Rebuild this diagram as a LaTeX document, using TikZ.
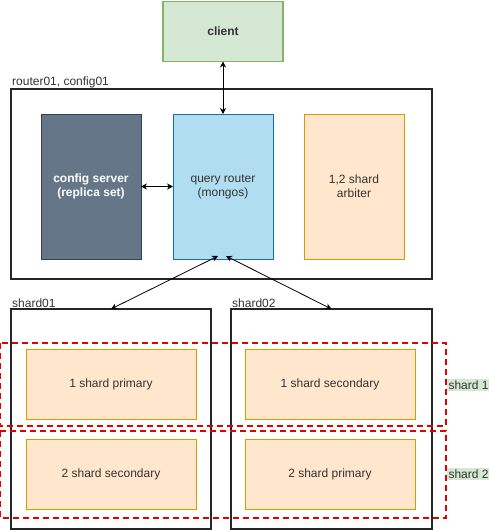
\documentclass[tikz,border=0pt]{standalone}
\usepackage{fontspec}
\setmainfont{Liberation Sans}
\usepackage{tikz}
\usetikzlibrary{arrows.meta}

\definecolor{clientfill}{HTML}{D5E8D4}
\definecolor{clientline}{HTML}{82B366}
\definecolor{cfgfill}{HTML}{647687}
\definecolor{cfgline}{HTML}{314354}
\definecolor{qrfill}{HTML}{B1DDF0}
\definecolor{qrline}{HTML}{10739E}
\definecolor{orfill}{HTML}{FFE6CC}
\definecolor{orline}{HTML}{D79B00}
\definecolor{txt}{HTML}{333333}

\begin{document}
\begin{tikzpicture}[x=1pt,y=-1pt,
  font=\fontsize{12}{14}\selectfont,
  box/.style={rectangle,inner sep=0pt,outer sep=0pt,align=center,text=txt},
  host/.style={box,draw=black!85,line width=1.6pt},
  conn/.style={{Stealth[length=6pt,width=6pt]}-{Stealth[length=6pt,width=6pt]},line width=0.8pt},
  grp/.style={draw=red!90!black,line width=1.6pt,dash pattern=on 6pt off 4pt},
  tag/.style={box,fill=clientfill,inner sep=1.5pt,anchor=west}]
\useasboundingbox (0,0) rectangle (488,530);

\node[box,draw=clientline,fill=clientfill,line width=1.6pt,minimum width=120pt,minimum height=60pt] (client) at (223,31.5) {\textbf{client}};

\node[host,minimum width=421pt,minimum height=190pt] (router) at (221.5,184) {};
\node[anchor=south west,inner sep=1pt,text=txt] at (router.north west) {router01, config01};

\node[box,draw=cfgline,fill=cfgfill,text=white,minimum width=100pt,minimum height=145pt] (config) at (91,186.5) {\textbf{config server}\\\textbf{(replica set)}};
\node[box,draw=qrline,fill=qrfill,minimum width=100pt,minimum height=145pt] (query) at (223,186.5) {query router\\(mongos)};
\node[box,draw=orline,fill=orfill,minimum width=100pt,minimum height=145pt] (arbiter) at (354,186.5) {1,2 shard\\arbiter};

\node[host,minimum width=200pt,minimum height=220pt] (shard01) at (111,419) {};
\node[anchor=south west,inner sep=1pt,text=txt] at (shard01.north west) {shard01};
\node[host,minimum width=201pt,minimum height=220pt] (shard02) at (331.5,419) {};
\node[anchor=south west,inner sep=1pt,text=txt] at (shard02.north west) {shard02};

\node[box,draw=orline,fill=orfill,minimum width=170pt,minimum height=70pt] (prim1) at (111,384) {1 shard primary};
\node[box,draw=orline,fill=orfill,minimum width=170pt,minimum height=70pt] (sec2) at (111,474) {2 shard secondary};
\node[box,draw=orline,fill=orfill,minimum width=170pt,minimum height=70pt] (sec1) at (330,384) {1 shard secondary};
\node[box,draw=orline,fill=orfill,minimum width=170pt,minimum height=70pt] (prim2) at (330,474) {2 shard primary};

% shard groups
\draw[grp] (0,343) rectangle (446,426);
\draw[grp] (0,431) rectangle (446,518);
\node[tag] (tag1) at (447,385) {shard 1};
\node[tag] (tag2) at (447,474) {shard 2};

% links
\draw[conn] (client.south) -- (query.north);
\draw[conn] (config.east) -- (query.west);
\draw[conn] ([xshift=-5pt,yshift=3pt]query.south) -- (shard01.north);
\draw[conn] ([xshift=3pt,yshift=3pt]query.south) -- (shard02.north);
\end{tikzpicture}
\end{document}
